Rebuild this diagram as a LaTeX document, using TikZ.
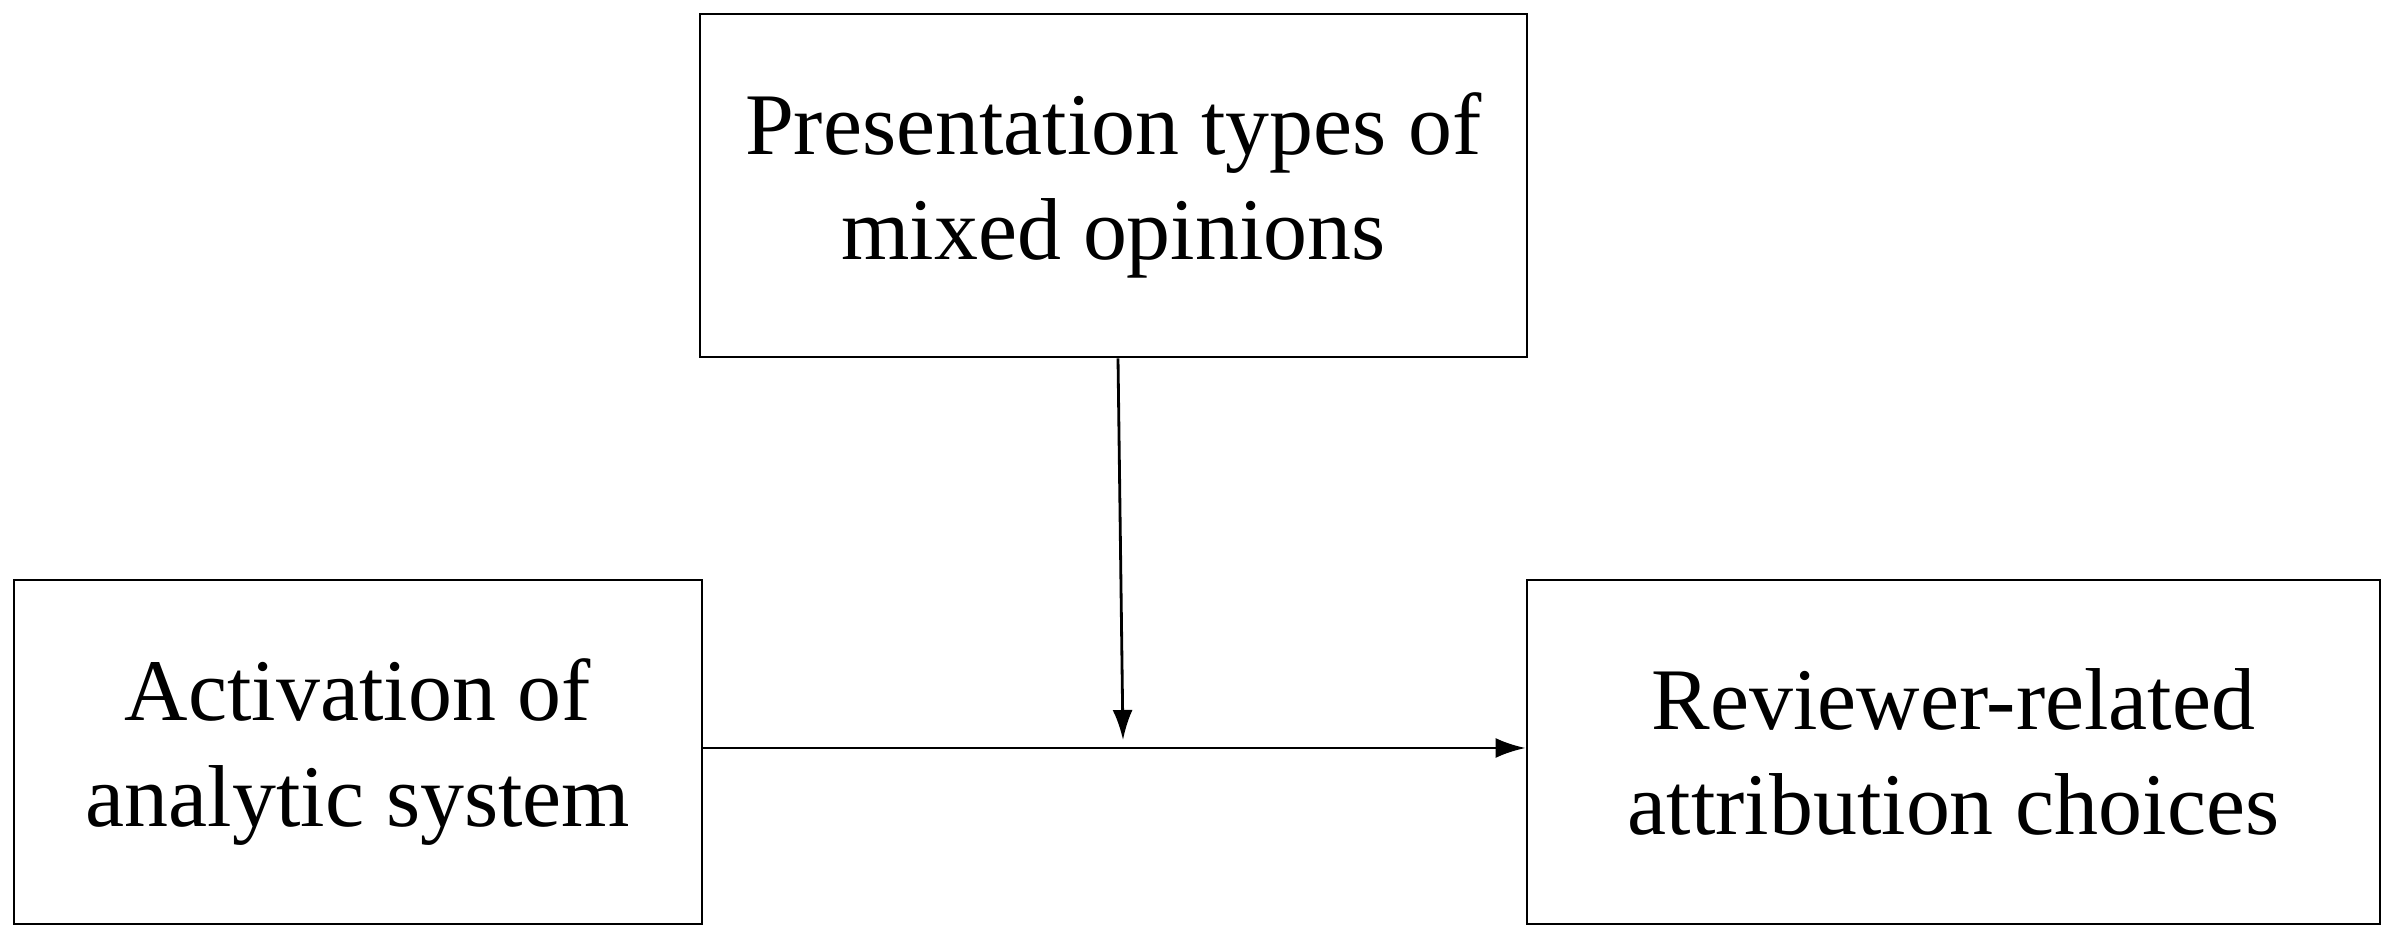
\documentclass[tikz,border=0pt]{standalone}
\usepackage{fontspec}
\setmainfont{Liberation Serif}
\usetikzlibrary{positioning,arrows.meta}
\tikzset{
	factor/.style = {shape=rectangle, draw, thick, align=center,
		font=\fontsize{25}{30}\selectfont},
	link/.style   = {draw, thick, -{Latex[length=3mm,width=2mm]}}
}
\begin{document}
\begin{tikzpicture}
	\useasboundingbox (0,0) rectangle (23.93,-9.39);
	% the three boxes
	\node [factor, minimum width=8.27cm, minimum height=3.43cm] (present) at (11.135,-1.855) {Presentation types of\\ mixed opinions};
	\node [factor, minimum width=6.88cm, minimum height=3.44cm] (activ) at (3.58,-7.52) {Activation of\\ analytic system};
	\node [factor, minimum width=8.53cm, minimum height=3.44cm] (review) at (19.535,-7.52) {Reviewer-related\\ attribution choices};
	% main effect and moderation
	\coordinate (meet) at (11.23,-7.40);
	\draw [link] (activ.east |- 0,-7.48) -- (review.west |- 0,-7.48);
	\draw [link] (present.south -| 11.18,0) -- (meet);
\end{tikzpicture}
\end{document}
